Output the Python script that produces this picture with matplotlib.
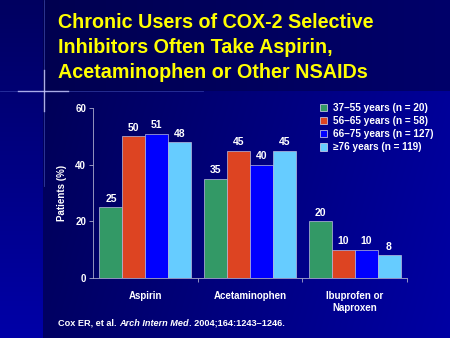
import numpy as np
import matplotlib
matplotlib.use("Agg")
import matplotlib.pyplot as plt
from matplotlib.patches import Patch

categories = ["Aspirin", "Acetaminophen", "Ibuprofen or\nNaproxen"]
series_names = ["37\u201355 years (n = 20)", "56\u201365 years (n = 58)",
                "66\u201375 years (n = 127)", "\u226576 years (n = 119)"]
values = [
    [25, 35, 20],
    [50, 45, 10],
    [51, 40, 10],
    [48, 45, 8],
]
colors = ["#339966", "#DD4422", "#0000FF", "#66CCFF"]
yticks = [0, 20, 40, 60]

plt.rcParams['font.family'] = ['Liberation Sans', 'DejaVu Sans']

W, H = 450, 338
fig = plt.figure(figsize=(4.5, 3.38), dpi=100)
# background
bg = fig.add_axes([0, 0, 1, 1], zorder=-10)
xs = np.arange(W)[None, :].repeat(H, 0)
ys = np.arange(H)[:, None].repeat(W, 1)
img = np.zeros((H, W, 3))
dark = np.array([0x00, 0x00, 0x58]) / 255
bright = np.array([0x00, 0x00, 0xA4]) / 255
# main area gradient left->right
t = np.clip((xs - 43) / (W - 43), 0, 1) * 0.85 + np.clip((ys - 91) / (H - 91), 0, 1) * 0.15
main = dark * (1 - t[..., None]) + bright * t[..., None]
img[:] = main
# title band
band = (ys < 91) & (xs >= 43)
tb = np.clip((xs - 43) / (W - 43), 0, 1)
band_col = (np.array([0x00, 0x00, 0x50]) / 255) * (1 - tb[..., None]) + (np.array([0x00, 0x00, 0x6A]) / 255) * tb[..., None]
img[band] = band_col[band]
# left strip
left = xs < 43
tl = ys / H
left_col = (np.array([0x00, 0x00, 0x60]) / 255) * (1 - tl[..., None]) + (np.array([0x00, 0x00, 0xA8]) / 255) * tl[..., None]
img[left] = left_col[left]
bg.imshow(img, extent=[0, 1, 0, 1], aspect='auto', origin='upper', interpolation='nearest')
# flare lines
cx, cy = 43.5 / W, 1 - 90.5 / H
bg.plot([cx, cx], [0.45, 1.0], color="#5566cc", lw=0.6, alpha=0.6)
bg.plot([0.0, 0.45], [cy, cy], color="#5566cc", lw=0.6, alpha=0.5)
bg.plot([0.04, 0.15], [cy, cy], color="#ccccff", lw=1.0, alpha=0.8)
bg.plot([cx, cx], [cy - 0.06, cy + 0.06], color="#ccccff", lw=1.0, alpha=0.8)
bg.set_xlim(0, 1); bg.set_ylim(0, 1)
bg.axis('off')

fig.text(0.129, 0.962, "Chronic Users of COX-2 Selective\nInhibitors Often Take Aspirin,\nAcetaminophen or Other NSAIDs",
         color="#FFFF00", fontsize=14.2, fontweight='bold', va='top', ha='left', linespacing=1.4)

ax = fig.add_axes([0.207, 0.178, 0.697, 0.502])
ax.set_facecolor('none')
x = np.arange(len(categories))
w = 0.22
for i, (name, vals, col) in enumerate(zip(series_names, values, colors)):
    pos = x + (i - 1.5) * w
    ax.bar(pos, vals, width=w, color=col, edgecolor="#bbbbdd", linewidth=0.5, label=name)
    for p, v in zip(pos, vals):
        ax.text(p, v + 1.2, str(v), ha='center', va='bottom', color='white',
                fontsize=7.5, fontweight='bold')

ax.set_xlim(-0.5, 2.5)
ax.set_ylim(0, 60)
ax.set_yticks(yticks)
ax.set_yticklabels([str(v) for v in yticks], color='white', fontsize=7, fontweight='bold')
ax.set_xticks([0.5, 1.5, 2.5])
ax.set_xticklabels([])
ax.tick_params(axis='x', length=3, color='#aaaacc', width=0.6)
ax.tick_params(axis='y', length=3, color='#aaaacc', width=0.6, pad=2)
for j, c in enumerate(categories):
    ax.text(j, -4.5, c, ha='center', va='top', color='white', fontsize=7,
            fontweight='bold', linespacing=1.3)
for s in ['top', 'right']:
    ax.spines[s].set_visible(False)
for s in ['left', 'bottom']:
    ax.spines[s].set_color('#aaaacc')
    ax.spines[s].set_linewidth(0.6)
ax.set_ylabel("Patients (%)", color='white', fontsize=7, fontweight='bold', labelpad=6)

handles = [Patch(facecolor=c, edgecolor='#ddddee', linewidth=0.5) for c in colors]
leg = ax.legend(handles, series_names, loc='upper right', bbox_to_anchor=(1.115, 1.085),
                frameon=False, handlelength=0.75, handleheight=0.75,
                handletextpad=0.6, labelspacing=0.32, prop={'weight': 'bold', 'size': 7.2})
for t_ in leg.get_texts():
    t_.set_color('white')

# citation with italic part
fig.canvas.draw()
r = fig.canvas.get_renderer()
xpix, ypix = 58, H - 323
parts = [("Cox ER, et al. ", 'normal'), ("Arch Intern Med", 'italic'), (". 2004;164:1243\u20131246.", 'normal')]
for txt, st in parts:
    tt = fig.text(xpix / W, ypix / H, txt, color='white', fontsize=6.6, fontweight='bold',
                  style=st, ha='left', va='center')
    bb = tt.get_window_extent(renderer=r)
    xpix = bb.x1

fig.savefig("out.png", dpi=100)
